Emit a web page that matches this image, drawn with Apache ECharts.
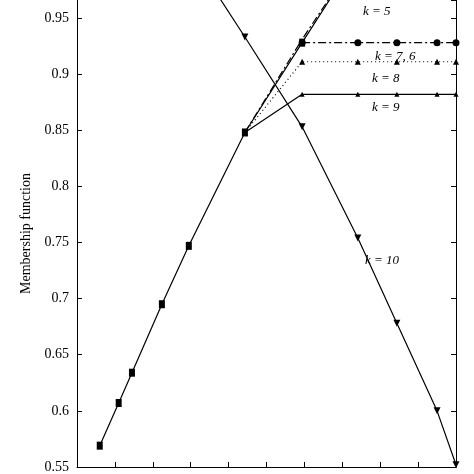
<!DOCTYPE html><html><head><meta charset="utf-8"><script src="https://cdn.jsdelivr.net/npm/echarts@6/dist/echarts.min.js"></script></head><body style="margin:0"><div id="c" style="width:474px;height:474px"></div><script>
var rise=[[0.6,0.569],[1.1,0.607],[1.45,0.634],[2.24,0.695],[2.95,0.747],[4.43,0.848],[5.94,0.928],[7.4,1.005]];
var k5=[[4.43,0.848],[5.94,0.931],[7.1,0.99]];
var k76=[[5.94,0.928],[7.41,0.928],[8.44,0.928],[9.5,0.928],[10,0.928]];
var k8=[[4.43,0.848],[5.94,0.911],[7.41,0.911],[8.44,0.911],[9.5,0.911],[10,0.911]];
var k9=[[4.43,0.848],[5.94,0.882],[7.41,0.882],[8.44,0.882],[9.5,0.882],[10,0.882]];
var k10=[[2.95,1.01],[4.43,0.933],[5.94,0.853],[7.41,0.754],[8.44,0.678],[9.5,0.600],[10,0.552]];
var labels=[{t:'k = 5',x:383,y:5},{t:'k = 7, 6',x:395,y:50},{t:'k = 8',x:392,y:72},{t:'k = 9',x:392,y:101},{t:'k = 10',x:385,y:254}];
var F='Liberation Serif';
function s(d,sym,size,type){return {type:'line',data:d,symbol:sym,symbolSize:size,lineStyle:{color:'#000',width:1.2,type:type},itemStyle:{color:'#000'},z:3};}
var ch=echarts.init(document.getElementById('c'));
ch.setOption({animation:false,
grid:{left:77,right:18,top:0,bottom:2},
xAxis:{type:'value',min:0,max:10,interval:1,axisLabel:{show:false},axisTick:{inside:true,length:5,lineStyle:{color:'#000'}},axisLine:{lineStyle:{color:'#000'}},splitLine:{show:false}},
yAxis:[{type:'value',min:0.55,max:0.966,interval:0.05,name:'Membership function',nameLocation:'middle',nameGap:44,nameTextStyle:{fontFamily:F,fontSize:14,color:'#000'},axisLabel:{fontFamily:F,fontSize:14,color:'#000',showMaxLabel:false,formatter:function(v){return +v.toFixed(2)+'';}},axisTick:{inside:true,length:5,lineStyle:{color:'#000'}},axisLine:{show:true,lineStyle:{color:'#000'}},splitLine:{show:false}},
{type:'value',position:'right',min:0.55,max:0.966,interval:0.05,axisLabel:{show:false},axisTick:{inside:true,length:5,lineStyle:{color:'#000'}},axisLine:{show:true,lineStyle:{color:'#000'}},splitLine:{show:false}}],
graphic:labels.map(function(l){return {type:'text',left:l.x-20,top:l.y,style:{text:l.t,font:'italic 13px '+F,fill:'#000'}};}),
series:[s(rise,'rect',[6,8],'solid'),s(k5,'none',6,[8,3,2,3]),s(k76,'circle',7,[8,3,2,3]),s(k8,'triangle',6,[1,3]),s(k9,'triangle',5,'solid'),s(k10,'path://M0,0L10,0L5,10Z',7,'solid')]});
</script></body></html>
